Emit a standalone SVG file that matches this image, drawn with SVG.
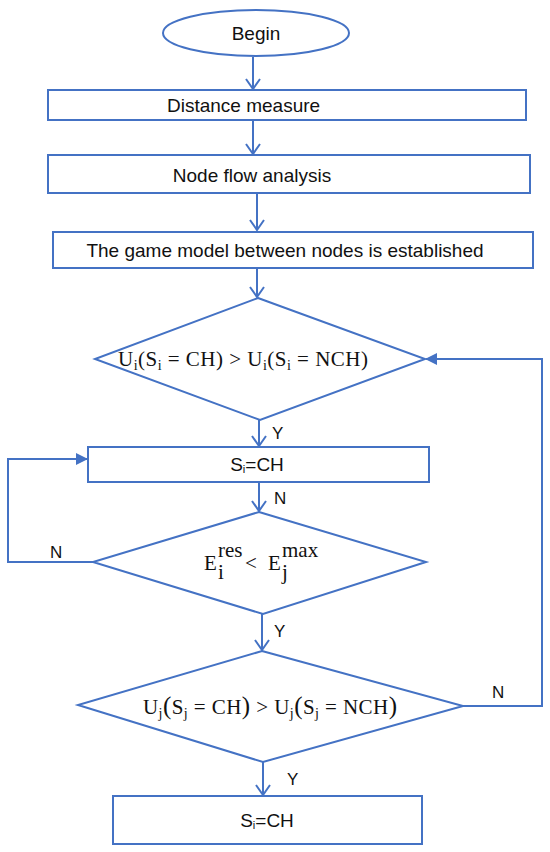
<svg xmlns="http://www.w3.org/2000/svg" width="550" height="852" viewBox="0 0 550 852">
<style>
.s{fill:none;stroke:#4472C4;stroke-width:2}
.t{font-family:"Liberation Sans","Open Sans",Arial,sans-serif;font-size:19px;fill:#111}
.m{font-family:"Liberation Serif","DejaVu Serif",serif;font-size:21px;fill:#111}
.l{font-family:"Liberation Sans",Arial,sans-serif;font-size:17px;fill:#111}
</style>
<defs>
<marker id="open" markerUnits="userSpaceOnUse" viewBox="0 0 12 16" refX="11" refY="8" markerWidth="12" markerHeight="16" orient="auto">
<path d="M1,1 L11,8 L1,15" fill="none" stroke="#4472C4" stroke-width="2"/>
</marker>
<marker id="fill" markerUnits="userSpaceOnUse" viewBox="0 0 12 12" refX="11" refY="6" markerWidth="12" markerHeight="12" orient="auto">
<path d="M0,0 L12,6 L0,12 z" fill="#4472C4"/>
</marker>
</defs>
<rect width="550" height="852" fill="#fff"/>
<g id="begin">
<ellipse class="s" cx="256" cy="33" rx="93" ry="23"/>
<text class="t" x="256" y="40" text-anchor="middle">Begin</text>
</g>
<g id="distance">
<rect class="s" x="48" y="90" width="478" height="30"/>
<text class="t" x="167" y="112">Distance measure</text>
</g>
<g id="flow">
<rect class="s" x="48" y="155" width="482" height="38"/>
<text class="t" x="252" y="182" text-anchor="middle">Node flow analysis</text>
</g>
<g id="game">
<rect class="s" x="53" y="232" width="480" height="36"/>
<text class="t" x="285" y="257" text-anchor="middle">The game model between nodes is established</text>
</g>
<g id="dec1">
<polygon class="s" points="258,298 425,359 260,420 95,359"/>
<text class="m" x="118" y="366" textLength="250" lengthAdjust="spacing">U<tspan font-size="14" dy="4">i</tspan><tspan dy="-4">(S</tspan><tspan font-size="14" dy="4">i</tspan><tspan dy="-4"> = CH) &gt; U</tspan><tspan font-size="14" dy="4">i</tspan><tspan dy="-4">(S</tspan><tspan font-size="14" dy="4">i</tspan><tspan dy="-4"> = NCH)</tspan></text>
</g>
<g id="si1">
<rect class="s" x="88" y="447" width="341" height="35"/>
<text class="t" x="257" y="471" text-anchor="middle">S<tspan font-size="11" dy="2">i</tspan><tspan dy="-2">=CH</tspan></text>
</g>
<g id="dec2">
<polygon class="s" points="259,512 426,562 263,614 93,562"/>
<text class="m" x="204" y="570">E</text>
<text class="m" x="218" y="557" font-size="13">res</text>
<text class="m" x="218" y="579" font-size="13">i</text>
<text class="m" x="245" y="570">&lt;</text>
<text class="m" x="268" y="570">E</text>
<text class="m" x="282" y="557" font-size="13">max</text>
<text class="m" x="282" y="579" font-size="13">j</text>
</g>
<g id="dec3">
<polygon class="s" points="262,651 463,706 263,762 78,705"/>
<text class="m" x="143" y="714" textLength="254" lengthAdjust="spacing">U<tspan font-size="14" dy="4">j</tspan><tspan dy="-4" font-size="25">(</tspan><tspan>S</tspan><tspan font-size="14" dy="4">j</tspan><tspan dy="-4"> = CH</tspan><tspan font-size="25">)</tspan><tspan> &gt; U</tspan><tspan font-size="14" dy="4">j</tspan><tspan dy="-4" font-size="25">(</tspan><tspan>S</tspan><tspan font-size="14" dy="4">j</tspan><tspan dy="-4"> = NCH</tspan><tspan font-size="25">)</tspan></text>
</g>
<g id="si2">
<rect class="s" x="113" y="796" width="309" height="48"/>
<text class="t" x="267" y="827" text-anchor="middle">S<tspan font-size="11" dy="2">i</tspan><tspan dy="-2">=CH</tspan></text>
</g>
<g id="connectors">
<line class="s" x1="253" y1="57" x2="253" y2="89" marker-end="url(#open)"/>
<line class="s" x1="253" y1="120" x2="253" y2="154" marker-end="url(#open)"/>
<line class="s" x1="257" y1="193" x2="257" y2="230" marker-end="url(#open)"/>
<line class="s" x1="257" y1="268" x2="257" y2="297" marker-end="url(#open)"/>
<line class="s" x1="259" y1="420" x2="259" y2="446" marker-end="url(#open)"/>
<line class="s" x1="259" y1="482" x2="259" y2="511" marker-end="url(#open)"/>
<line class="s" x1="262" y1="614" x2="262" y2="650" marker-end="url(#open)"/>
<line class="s" x1="263" y1="762" x2="263" y2="795" marker-end="url(#open)"/>
<polyline class="s" points="463,706 542,706 542,359 426,359" marker-end="url(#fill)"/>
<polyline class="s" points="93,562 8,562 8,459 87,459" marker-end="url(#fill)"/>
<text class="l" x="272" y="439">Y</text>
<text class="l" x="274" y="504">N</text>
<text class="l" x="50" y="558">N</text>
<text class="l" x="274" y="637">Y</text>
<text class="l" x="287" y="785">Y</text>
<text class="l" x="492" y="698">N</text>
</g>
</svg>
